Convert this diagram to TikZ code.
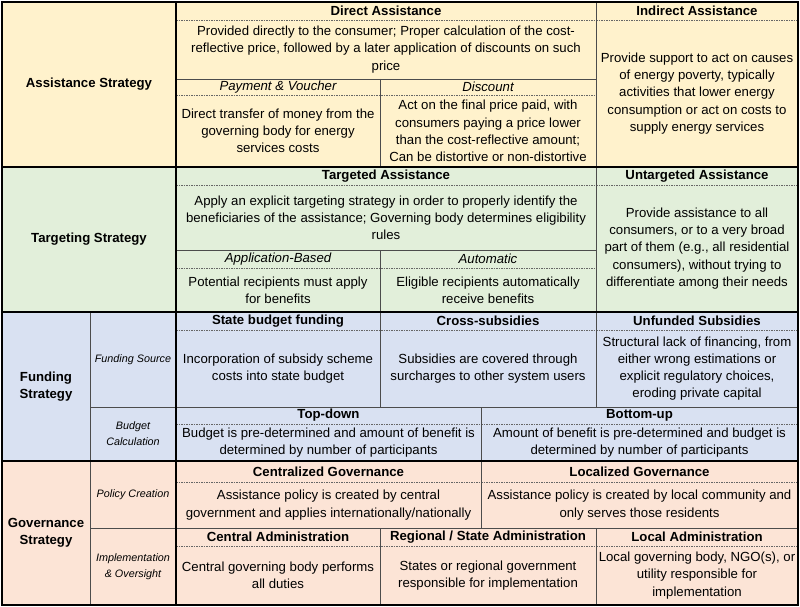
\documentclass[tikz,border=0pt]{standalone}
\usepackage{fontspec}
\setmainfont{Liberation Sans}
\definecolor{cy}{HTML}{FFF2CC}
\definecolor{cg}{HTML}{E2EFDA}
\definecolor{cb}{HTML}{D9E1F2}
\definecolor{cs}{HTML}{FCE4D6}
\newcommand{\cellx}[7]{\node[#6,minimum width={#3-#1},minimum height={#4-#2},inner sep=0pt] (#7) at ({(#1+#3)/2},{(#2+#4)/2}) {#5};}
\tikzset{
 body/.style={align=center,font=\fontsize{13.2}{17.2}\selectfont},
 hd/.style={align=center,font=\fontsize{13.2}{17}\selectfont\bfseries},
 it/.style={align=center,font=\fontsize{13.2}{17}\selectfont\itshape},
 sm/.style={align=center,font=\fontsize{10.8}{16}\selectfont\itshape},
 thin/.style={draw=black!70,line width=0.8pt},
 thick/.style={draw=black,line width=2pt},
 dsh/.style={draw=black!60,dashed,dash pattern=on 1.5pt off 1pt,line width=0.6pt}
}
\begin{document}
\begin{tikzpicture}[x=1pt,y=-1pt]
\useasboundingbox (0,0) rectangle (800,607);
\fill[cy] (2,2) rectangle (798,167);
\fill[cg] (2,167) rectangle (798,312);
\fill[cb] (2,312) rectangle (798,461);
\fill[cs] (2,461) rectangle (798,605);
\foreach \a/\b/\y in {176/596/20,596/798/20,176/596/95,176/596/185,596/798/185,176/596/268,176/798/330,176/798/424,176/798/482,176/798/546}
  \draw[dsh] (\a,\y) -- (\b,\y);
\draw[thin] (176,79) -- (596,79) (380,79) -- (380,167) (596,2) -- (596,167);
\draw[thin] (176,250) -- (596,250) (380,250) -- (380,312) (596,167) -- (596,312);
\draw[thin] (90,407) -- (798,407) (380,312) -- (380,407) (596,312) -- (596,407) (481,407) -- (481,461);
\draw[thin] (90,528) -- (798,528) (481,461) -- (481,528) (380,528) -- (380,605) (596,528) -- (596,605);
\draw[thin] (90,312) -- (90,605);
\draw[thick] (2,167) -- (798,167) (2,312) -- (798,312) (2,461) -- (798,461) (176,2) -- (176,605);
\draw[thick] (2,2) rectangle (798,605);
% Assistance
\cellx{2}{2}{176}{167}{Assistance Strategy}{hd}{as}
\cellx{176}{2}{596}{20}{Direct Assistance}{hd}{da}
\cellx{596}{2}{798}{20}{Indirect Assistance}{hd}{ia}
\cellx{176}{20}{596}{79}{Provided directly to the consumer; Proper calculation of the cost-\\reflective price, followed by a later application of discounts on such\\price}{body}{dat}
\cellx{596}{20}{798}{167}{Provide support to act on causes\\of energy poverty, typically\\activities that lower energy\\consumption or act on costs to\\supply energy services}{body}{iat}
\cellx{176}{79}{380}{95}{Payment \& Voucher}{it}{pv}
\cellx{380}{79}{596}{95}{Discount}{it}{di}
\cellx{176}{95}{380}{167}{Direct transfer of money from the\\governing body for energy\\services costs}{body}{pvt}
\cellx{380}{95}{596}{167}{Act on the final price paid, with\\consumers paying a price lower\\than the cost-reflective amount;\\Can be distortive or non-distortive}{body}{dit}
% Targeting
\cellx{2}{167}{176}{312}{Targeting Strategy}{hd}{ts}
\cellx{176}{167}{596}{185}{Targeted Assistance}{hd}{ta}
\cellx{596}{167}{798}{185}{Untargeted Assistance}{hd}{ua}
\cellx{176}{185}{596}{250}{Apply an explicit targeting strategy in order to properly identify the\\beneficiaries of the assistance; Governing body determines eligibility\\rules}{body}{tat}
\cellx{596}{185}{798}{312}{Provide assistance to all\\consumers, or to a very broad\\part of them (e.g., all residential\\consumers), without trying to\\differentiate among their needs}{body}{uat}
\cellx{176}{250}{380}{268}{Application-Based}{it}{ab}
\cellx{380}{250}{596}{268}{Automatic}{it}{au}
\cellx{176}{268}{380}{312}{Potential recipients must apply\\for benefits}{body}{abt}
\cellx{380}{268}{596}{312}{Eligible recipients automatically\\receive benefits}{body}{aut}
% Funding
\cellx{2}{312}{90}{461}{Funding\\Strategy}{hd}{fs}
\cellx{90}{312}{176}{407}{Funding Source}{sm}{fso}
\cellx{90}{407}{176}{461}{Budget\\Calculation}{sm}{bc}
\cellx{176}{312}{380}{330}{State budget funding}{hd}{sb}
\cellx{380}{312}{596}{330}{Cross-subsidies}{hd}{cr}
\cellx{596}{312}{798}{330}{Unfunded Subsidies}{hd}{un}
\cellx{176}{330}{380}{407}{Incorporation of subsidy scheme\\costs into state budget}{body}{sbt}
\cellx{380}{330}{596}{407}{Subsidies are covered through\\surcharges to other system users}{body}{crt}
\cellx{596}{330}{798}{407}{Structural lack of financing, from\\either wrong estimations or\\explicit regulatory choices,\\eroding private capital}{body}{unt}
\cellx{176}{407}{481}{424}{Top-down}{hd}{td}
\cellx{481}{407}{798}{424}{Bottom-up}{hd}{bu}
\cellx{176}{424}{481}{461}{Budget is pre-determined and amount of benefit is\\determined by number of participants}{body}{tdt}
\cellx{481}{424}{798}{461}{Amount of benefit is pre-determined and budget is\\determined by number of participants}{body}{but}
% Governance
\cellx{2}{461}{90}{605}{Governance\\Strategy}{hd}{gs}
\cellx{90}{461}{176}{528}{Policy Creation}{sm}{pc}
\cellx{90}{528}{176}{605}{Implementation\\\& Oversight}{sm}{io}
\cellx{176}{461}{481}{482}{Centralized Governance}{hd}{cg}
\cellx{481}{461}{798}{482}{Localized Governance}{hd}{lg}
\cellx{176}{482}{481}{528}{Assistance policy is created by central\\government and applies internationally/nationally}{body}{cgt}
\cellx{481}{482}{798}{528}{Assistance policy is created by local community and\\only serves those residents}{body}{lgt}
\cellx{176}{528}{380}{546}{Central Administration}{hd}{ca}
\cellx{380}{528}{596}{546}{Regional / State Administration}{hd}{ra}
\cellx{596}{528}{798}{546}{Local Administration}{hd}{la}
\cellx{176}{546}{380}{605}{Central governing body performs\\all duties}{body}{cat}
\cellx{380}{546}{596}{605}{States or regional government\\responsible for implementation}{body}{rat}
\cellx{596}{546}{798}{605}{Local governing body, NGO(s), or\\utility responsible for\\implementation}{body}{lat}
\end{tikzpicture}
\end{document}
